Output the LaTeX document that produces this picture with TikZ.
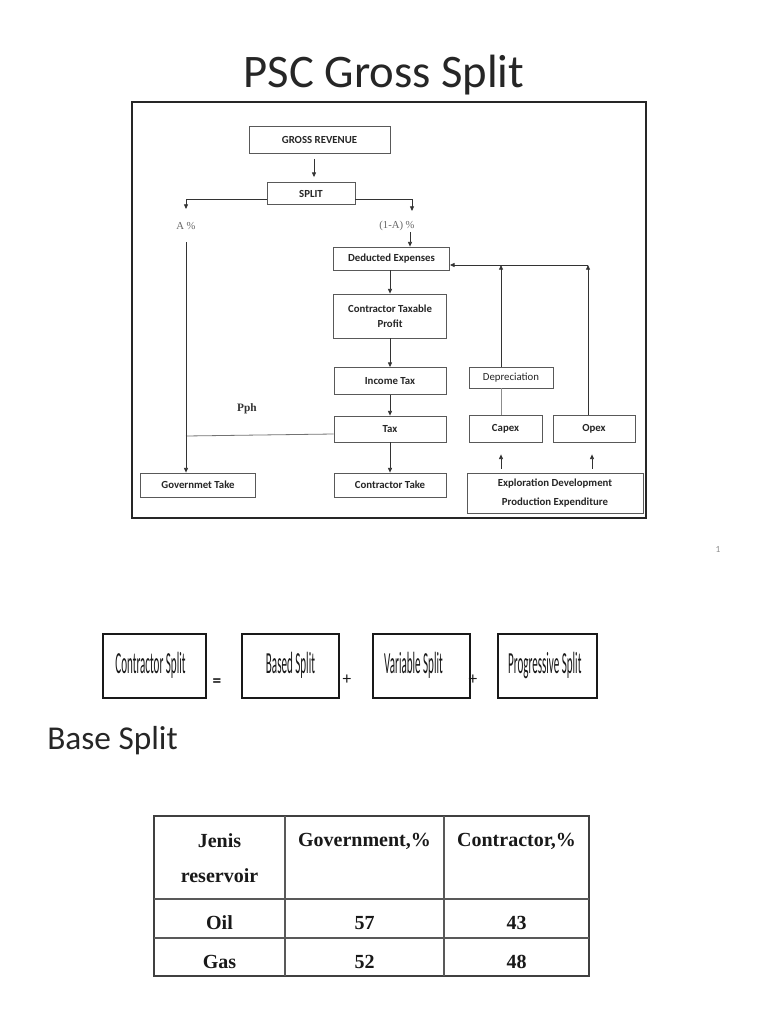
\documentclass[tikz,border=0pt]{standalone}
\usepackage{fontspec}
\setmainfont{Carlito}
\newfontfamily\serifff{Liberation Serif}
\newfontfamily\narrowff[FakeStretch=0.36]{Carlito}
\usetikzlibrary{arrows.meta,calc}
\begin{document}
\begin{tikzpicture}[x=0.75pt,y=-0.75pt,
  ln/.style={draw=black!80, line width=0.6pt},
  arr/.style={ln, -{Triangle[length=3.5pt,width=3pt]}},
  fbox/.style={draw=black!65, line width=0.6pt, fill=white, text=black!85,
     font=\fontsize{8.1}{11}\selectfont\bfseries, align=center, inner sep=0pt},
  sbox/.style={draw=black!90, line width=1.1pt, inner sep=0pt, minimum height=48pt,
     font=\narrowff\fontsize{23}{26}\selectfont, text=black!90},
  lbl/.style={font=\serifff\fontsize{8}{10}\selectfont, text=black!60, inner sep=1pt},
  tbl/.style={font=\serifff\fontsize{15}{18}\selectfont\bfseries, text=black!90},
  op/.style={font=\fontsize{13}{15}\selectfont\bfseries, text=black!90}]
\useasboundingbox (0,0) rectangle (768,1024);
\fill[white] (0,0) rectangle (768,1024);

% title
\node[font=\fontsize{35}{40}\selectfont, text=black!85, anchor=base] (title) at (384,88) {PSC Gross Split};

% frame
\draw[line width=1.2pt, draw=black!85] (132,102) rectangle (646,518);

% flowchart nodes
\node[fbox, minimum width=105.75pt, minimum height=20.25pt] (gr) at (319.5,140) {GROSS REVENUE};
\node[fbox, minimum width=66pt, minimum height=16.5pt] (split) at (311,193.5) {SPLIT};
\node[lbl] (ap) at (186,226) {A \%};
\node[lbl] (oap) at (397,226) {(1-A) \%};
\node[fbox, minimum width=87pt, minimum height=17.25pt] (ded) at (391.5,258.5) {Deducted Expenses};
\node[fbox, minimum width=84.75pt, minimum height=33pt] (ctp) at (390,316) {Contractor Taxable\\Profit};
\node[fbox, minimum width=84pt, minimum height=20.25pt] (itax) at (390,381) {Income Tax};
\node[fbox, minimum width=84pt, minimum height=19.5pt] (tax) at (390,429) {Tax};
\node[fbox, minimum width=86.25pt, minimum height=18pt] (gov) at (198,485) {Governmet Take};
\node[fbox, minimum width=84pt, minimum height=18pt] (ctake) at (390,485) {Contractor Take};
\node[fbox, minimum width=63pt, minimum height=15.75pt, font=\fontsize{8.1}{11}\selectfont] (dep) at (511,377.5) {Depreciation};
\node[fbox, minimum width=54.75pt, minimum height=20.25pt] (capex) at (505.5,428.5) {Capex};
\node[fbox, minimum width=61.5pt, minimum height=20.25pt] (opex) at (594,428.5) {Opex};
\node[fbox, minimum width=132pt, minimum height=30pt, font=\fontsize{8.1}{14}\selectfont\bfseries] (expl) at (555,493) {Exploration Development\\Production Expenditure};
\node[font=\serifff\fontsize{8.5}{10}\selectfont\bfseries, text=black!80] (pph) at (247,409) {Pph};

% connectors
\draw[arr] ($(gr.south)+(-5.5,5)$) -- ($(split.north)+(3,-5)$);
\coordinate (aL) at (186,209);
\coordinate (aR) at (412,211);
\draw[arr] ($(split.west)+(0,5.5)$) -| (aL);
\draw[arr] ($(split.east)+(0,5.5)$) -| (aR);
\coordinate (oa) at ($(oap.south)+(13,0)$);
\draw[arr] (oa) -- (oa |- ded.north);
\draw[arr] (ded.south -| ctp.north) -- (ctp.north);
\draw[arr] (ctp.south) -- (itax.north);
\draw[arr] (itax.south) -- (tax.north);
\draw[arr] (tax.south) -- (ctake.north);
\coordinate (gv) at (186,436);
\draw[ln, draw=black!55] ($(tax.west)+(0,5)$) -- (gv);
\draw[arr] ($(ap.south)+(0,11)$) -- (ap.south |- gov.north);

\coordinate (jm) at (501,265);
\coordinate (jr) at (588,265);
\draw[arr] (jr) -- (ded.east |- jr);
\draw[arr] (dep.north -| jm) -- (jm);
\draw[arr] (opex.north -| jr) -- (jr);
\draw[ln, draw=black!45] (capex.north -| jm) -- (dep.south -| jm);
\draw[arr, shorten <=3pt, shorten >=9pt] (expl.north -| jm) -- (capex.south -| jm);
\draw[arr, shorten <=3pt, shorten >=9pt] (expl.north -| 592,0) -- (opex.south -| 592,0);

% page number
\node[font=\fontsize{7}{8}\selectfont, text=black!45] (pg) at (718,549) {1};

% split formula
\node[sbox, minimum width=77.25pt] (cs) at (154.5,666) {\raisebox{4pt}{Contractor Split\hspace{6pt}}};
\node[sbox, minimum width=72.75pt] (bs) at (290.5,666) {\raisebox{4pt}{Based Split}};
\node[sbox, minimum width=72.75pt] (vs) at (421.5,666) {\raisebox{4pt}{Variable Split\hspace{12pt}}};
\node[sbox, minimum width=74.25pt] (ps) at (547.5,666) {\raisebox{4pt}{Progressive Split\hspace{4pt}}};
\node[op] (eq) at (217,683) {=};
\node[op, font=\fontsize{13}{15}\selectfont] (p1) at (347,680) {+};
\node[op, font=\fontsize{13}{15}\selectfont] (p2) at (473,680) {+};

% base split heading
\node[font=\fontsize{25}{30}\selectfont, text=black!85, anchor=base west, inner sep=0pt] (bsh) at (47,749) {Base Split};

% table
\draw[draw=black!75, line width=0.9pt] (154,816) rectangle (589,976);
\draw[draw=black!65, line width=0.8pt] (285,816) -- (285,976) (444,816) -- (444,976)
  (154,899) -- (589,899) (154,938) -- (589,938);
\node[tbl] (t1) at (219.5,841) {Jenis};
\node[tbl] (t2) at (219.5,876) {reservoir};
\node[tbl] (t3) at (364.5,841) {Government,\%};
\node[tbl] (t4) at (516.5,841) {Contractor,\%};
\node[tbl] (t5) at (219.5,923) {Oil};
\node[tbl] (t6) at (364.5,923) {57};
\node[tbl] (t7) at (516.5,923) {43};
\node[tbl] (t8) at (219.5,962) {Gas};
\node[tbl] (t9) at (364.5,962) {52};
\node[tbl] (t10) at (516.5,962) {48};
\end{tikzpicture}
\end{document}
